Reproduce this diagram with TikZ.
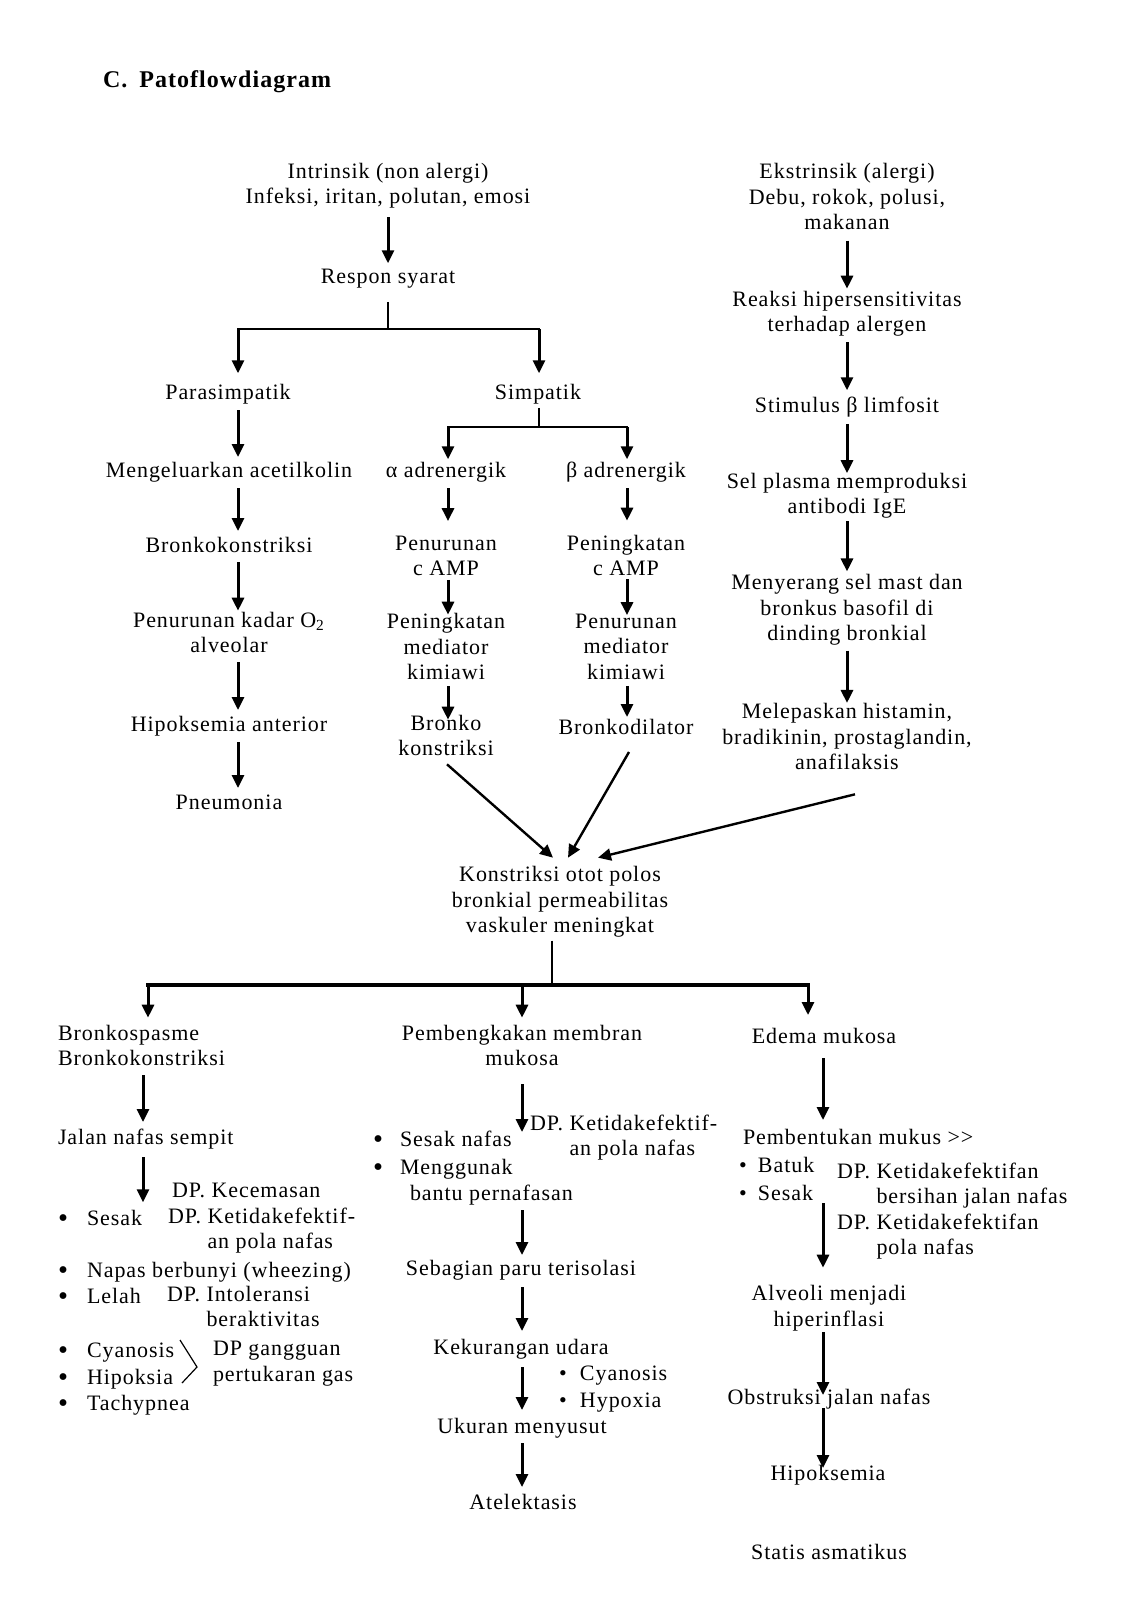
\documentclass[tikz,border=0pt]{standalone}
\usepackage{fontspec}
\setmainfont{Liberation Serif}[LetterSpace=4.3]
\usetikzlibrary{arrows.meta,calc}
\newcommand\mystrut{\vrule height 10.325pt depth 2.425pt width 0pt\relax}
\newcommand\bul[2]{\makebox[#1][l]{\raisebox{-0.6pt}{\scalebox{1.3}{•}}}#2}
\newcommand\sbul[2]{\makebox[#1][l]{•}#2}
\newcommand\varr[6][arr]{\draw[#1] ($(#2.south -| #4)+(0,#5)$) -- ($(#3.north -| #4)+(0,#6)$);}
\begin{document}
\begin{tikzpicture}[x=0.5pt,y=-0.5pt,
  every node/.style={font=\fontsize{11pt}{12.75pt}\selectfont, inner sep=0pt, outer sep=0pt,
    execute at begin node=\mystrut, execute at end node=\mystrut},
  ml/.style={align=center},
  lt/.style={anchor=west, align=left},
  arr/.style={line width=1.5pt, -{Triangle[length=6.5pt,width=6pt]}},
  darr/.style={line width=1.2pt, -{Triangle[length=6.5pt,width=6pt]}},
  thinln/.style={line width=0.6pt},
  hln/.style={line width=1pt, line cap=rect},
  hlnb/.style={line width=1.6pt, line cap=rect}]
\fill[white] (0,0) rectangle (1131,1600);
\useasboundingbox (0,0) rectangle (1131,1600);

% column coordinates
\coordinate (xA) at (388,0);
\coordinate (xP) at (238,0);
\coordinate (xS) at (539,0);
\coordinate (xal) at (448,0);
\coordinate (xbe) at (627,0);
\coordinate (xE) at (847,0);
\coordinate (xK) at (552,0);
\coordinate (x1j) at (148,0);
\coordinate (x1) at (143,0);
\coordinate (x2) at (522,0);
\coordinate (x3j) at (808,0);
\coordinate (x3) at (823,0);
\coordinate (j1) at (388,329);
\coordinate (j2) at (539,427);
\coordinate (j3) at (552,985);

% title
\node[anchor=west, font=\fontsize{12pt}{14pt}\selectfont\bfseries] (title) at (103,80) {C.\hspace{6pt}Patoflowdiagram};

% intrinsik branch
\node[ml] (intr) at (388,186) {Intrinsik (non alergi)\\Infeksi, iritan, polutan, emosi};
\node (resp) at (388,276) {Respon syarat};
\node (para) at (228,392) {Parasimpatik};
\node (simp) at (538,392) {Simpatik};
\node (acet) at (229,470) {Mengeluarkan acetilkolin};
\node (bk1) at (229,545) {Bronkokonstriksi};
\node[ml] (o2) at (229,635) {Penurunan kadar O\textsubscript{2}\\alveolar};
\node (hipo) at (229,724) {Hipoksemia anterior};
\node (pneu) at (229,802) {Pneumonia};
\node (alpha) at (446,470) {α adrenergik};
\node (beta) at (626,470) {β adrenergik};
\node[ml] (pen1) at (446,558) {Penurunan\\c AMP};
\node[ml] (pen2) at (626,558) {Peningkatan\\c AMP};
\node[ml] (med1) at (446,649) {Peningkatan\\mediator\\kimiawi};
\node[ml] (med2) at (626,649) {Penurunan\\mediator\\kimiawi};
\node[ml] (bronko) at (446,738) {Bronko\\konstriksi};
\node (dil) at (626,727) {Bronkodilator};

% ekstrinsik branch
\node[ml] (ekst) at (847,199) {Ekstrinsik (alergi)\\Debu, rokok, polusi,\\makanan};
\node[ml] (reak) at (847,314) {Reaksi hipersensitivitas\\terhadap alergen};
\node (stim) at (847,405) {Stimulus β limfosit};
\node[ml] (sel) at (847,496) {Sel plasma memproduksi\\antibodi IgE};
\node[ml] (meny) at (847,610) {Menyerang sel mast dan\\bronkus basofil di\\dinding bronkial};
\node[ml] (mel) at (847,739) {Melepaskan histamin,\\bradikinin, prostaglandin,\\anafilaksis};

% central
\node[ml] (kon) at (560,902) {Konstriksi otot polos\\bronkial permeabilitas\\vaskuler meningkat};

% column 1
\node[lt] (bsp) at (58,1048) {Bronkospasme\\Bronkokonstriksi};
\node[lt] (jalan) at (58,1137) {Jalan nafas sempit};
\node[lt] (kec) at (172,1190) {DP. Kecemasan};
\node[lt] (bs1) at (58,1218) {\bul{14.5pt}{Sesak}};
\node[lt] (dpk1) at (168,1230.5) {DP. Ketidakefektif-\\\hphantom{DP. }an pola nafas};
\node[lt] (bs2) at (58,1270) {\bul{14.5pt}{Napas berbunyi (wheezing)}};
\node[lt] (bs3) at (58,1296) {\bul{14.5pt}{Lelah}};
\node[lt] (dpint) at (167,1309) {DP. Intoleransi\\\hphantom{DP. }beraktivitas};
\node[lt] (bs4) at (58,1350) {\bul{14.5pt}{Cyanosis}};
\node[lt] (bs5) at (58,1377) {\bul{14.5pt}{Hipoksia}};
\node[lt] (bs6) at (58,1403) {\bul{14.5pt}{Tachypnea}};
\node[lt] (dpgas) at (213,1363.5) {DP gangguan\\pertukaran gas};

% column 2
\node[ml] (pemb) at (522,1048) {Pembengkakan membran\\mukosa};
\node[lt] (dpk2) at (530,1137.5) {DP. Ketidakefektif-\\\hphantom{DP. }an pola nafas};
\node[lt] (cs1) at (373,1139) {\bul{13.5pt}{Sesak nafas}};
\node[lt] (cs2) at (373,1167) {\bul{13.5pt}{Menggunak}};
\node[lt] (bantu) at (410,1193) {bantu pernafasan};
\node (seb) at (521,1268) {Sebagian paru terisolasi};
\node (kek) at (521,1347) {Kekurangan udara};
\node[lt] (cy2) at (559,1373) {\sbul{10.5pt}{Cyanosis}};
\node[lt] (hy2) at (559,1400) {\sbul{10.5pt}{Hypoxia}};
\node (ukur) at (522,1426) {Ukuran menyusut};
\node (atel) at (523,1502) {Atelektasis};

% column 3
\node (edema) at (824,1036) {Edema mukosa};
\node[lt] (pembent) at (743,1137) {Pembentukan mukus >{}>};
\node[lt] (batuk) at (739,1165) {\sbul{9.5pt}{Batuk}};
\node[lt] (sesak3) at (739,1193) {\sbul{9.5pt}{Sesak}};
\node[lt] (dpk3) at (837,1211) {DP. Ketidakefektifan\\\hphantom{DP. }bersihan jalan nafas\\DP. Ketidakefektifan\\\hphantom{DP. }pola nafas};
\node[ml] (alv) at (829,1308.5) {Alveoli menjadi\\hiperinflasi};
\node (obs) at (829,1397) {Obstruksi jalan nafas};
\node (hipo2) at (828,1473) {Hipoksemia};
\node (stat) at (829,1552) {Statis asmatikus};

% connectors: intrinsik
\varr{intr}{resp}{xA}{8.5}{0}
\draw[thinln] ($(resp.south -| xA)+(0,13)$) -- (j1);
\draw[hln] (j1 -| xP) -- (j1 -| xS);
\draw[arr] (j1 -| xP) -- ($(para.north -| xP)+(0,-6)$);
\draw[arr] (j1 -| xS) -- ($(simp.north -| xS)+(0,-6)$);
\varr{para}{acet}{xP}{5.25}{-0.25}
\varr{acet}{bk1}{xP}{5.25}{-1.25}
\varr{bk1}{o2}{xP}{4.25}{-1.5}
\varr{o2}{hipo}{xP}{4.5}{-1.25}
\varr{hipo}{pneu}{xP}{5.25}{-1.25}
\draw[thinln] ($(simp.south -| xS)+(0,3)$) -- (j2);
\draw[hln] (j2 -| xal) -- (j2 -| xbe);
\draw[arr] (j2 -| xal) -- ($(alpha.north -| xal)+(0,2)$);
\draw[arr] (j2 -| xbe) -- ($(beta.north -| xbe)+(0,2)$);
\varr{alpha}{pen1}{xal}{5.25}{-14.5}
\varr{beta}{pen2}{xbe}{5.25}{-14.5}
\varr{pen1}{med1}{xal}{-0.5}{1.25}
\varr{pen2}{med2}{xbe}{-1.5}{1.25}
\varr{med1}{bronko}{xal}{1.75}{4.5}
\varr{med2}{dil}{xbe}{1.75}{2.75}

% connectors: ekstrinsik
\varr{ekst}{reak}{xE}{6}{-2.5}
\varr{reak}{stim}{xE}{5.5}{-2}
\varr{stim}{sel}{xE}{6}{0}
\varr{sel}{meny}{xE}{2.5}{-3}
\varr{meny}{mel}{xE}{5}{-0.5}

% converging
\draw[darr] ($(bronko.south)+(1,3.5)$) -- ($(kon.north)+(-7,-8.75)$);
\draw[darr] ($(dil.south)+(3,12.25)$) -- ($(kon.north)+(8,-8.75)$);
\draw[darr] ($(mel.south)+(8,19.75)$) -- ($(kon.north)+(38,-8.75)$);

% bottom split
\draw[thinln] ($(kon.south -| xK)+(0,3)$) -- (j3);
\draw[hlnb] (j3 -| x1j) -- (j3 -| x3j);
\draw[arr] (j3 -| x1j) -- ($(bsp.north -| x1j)+(0,-7.5)$);
\draw[arr] (j3 -| x2) -- ($(pemb.north -| x2)+(0,-7.5)$);
\draw[arr] (j3 -| x3j) -- ($(edema.north -| x3j)+(0,-8.25)$);

% column 1
\varr{bsp}{jalan}{x1}{4.5}{-2.25}
\varr{jalan}{bs1}{x1}{7.25}{-3}
\draw[thinln] (180,1340) -- (197,1367) -- (182,1383);

% column 2
\varr{pemb}{cs1}{x2}{13.5}{5.75}
\varr{bantu}{seb}{x2}{4.25}{-0.25}
\varr{seb}{kek}{x2}{6.25}{-3.25}
\varr{kek}{ukur}{x2}{7.25}{-3.25}
\varr{ukur}{atel}{x2}{4.25}{-2.25}

% column 3
\varr{edema}{pembent}{x3}{9.25}{-4.25}
\varr{sesak3}{alv}{x3}{-2.75}{-18}
\varr{alv}{obs}{x3}{1}{10.75}
\varr{obs}{hipo2}{x3}{-1.75}{7.75}
\end{tikzpicture}
\end{document}
